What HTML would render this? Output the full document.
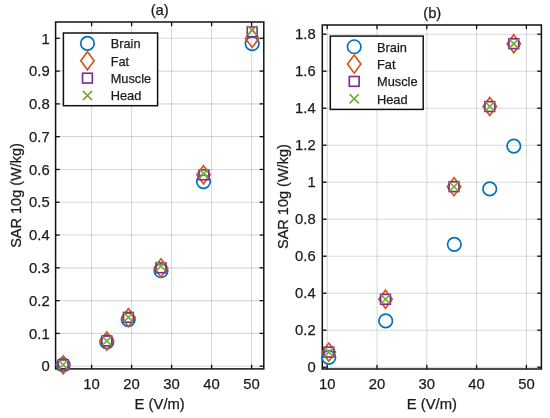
<!DOCTYPE html>
<html><head><meta charset="utf-8"><title>SAR plots</title>
<style>
html,body{margin:0;padding:0;background:#fff;}
svg{display:block;font-family:"Liberation Sans",Arial,sans-serif;}
svg text{fill:#1c1c1c;stroke:#1c1c1c;stroke-width:0.25;}
</style></head>
<body>
<svg width="550" height="418" viewBox="0 0 550 418">
<rect width="550" height="418" fill="#fff"/>
<rect x="55.6" y="22.0" width="208.20000000000002" height="346.9" fill="#fff"/>
<line x1="91.60" y1="22.0" x2="91.60" y2="368.9" stroke="#000" stroke-opacity="0.15" stroke-width="1.1"/>
<line x1="131.60" y1="22.0" x2="131.60" y2="368.9" stroke="#000" stroke-opacity="0.15" stroke-width="1.1"/>
<line x1="171.60" y1="22.0" x2="171.60" y2="368.9" stroke="#000" stroke-opacity="0.15" stroke-width="1.1"/>
<line x1="211.60" y1="22.0" x2="211.60" y2="368.9" stroke="#000" stroke-opacity="0.15" stroke-width="1.1"/>
<line x1="251.60" y1="22.0" x2="251.60" y2="368.9" stroke="#000" stroke-opacity="0.15" stroke-width="1.1"/>
<line x1="55.6" y1="366.20" x2="263.8" y2="366.20" stroke="#000" stroke-opacity="0.15" stroke-width="1.1"/>
<line x1="55.6" y1="333.41" x2="263.8" y2="333.41" stroke="#000" stroke-opacity="0.15" stroke-width="1.1"/>
<line x1="55.6" y1="300.62" x2="263.8" y2="300.62" stroke="#000" stroke-opacity="0.15" stroke-width="1.1"/>
<line x1="55.6" y1="267.83" x2="263.8" y2="267.83" stroke="#000" stroke-opacity="0.15" stroke-width="1.1"/>
<line x1="55.6" y1="235.04" x2="263.8" y2="235.04" stroke="#000" stroke-opacity="0.15" stroke-width="1.1"/>
<line x1="55.6" y1="202.25" x2="263.8" y2="202.25" stroke="#000" stroke-opacity="0.15" stroke-width="1.1"/>
<line x1="55.6" y1="169.46" x2="263.8" y2="169.46" stroke="#000" stroke-opacity="0.15" stroke-width="1.1"/>
<line x1="55.6" y1="136.67" x2="263.8" y2="136.67" stroke="#000" stroke-opacity="0.15" stroke-width="1.1"/>
<line x1="55.6" y1="103.88" x2="263.8" y2="103.88" stroke="#000" stroke-opacity="0.15" stroke-width="1.1"/>
<line x1="55.6" y1="71.09" x2="263.8" y2="71.09" stroke="#000" stroke-opacity="0.15" stroke-width="1.1"/>
<line x1="55.6" y1="38.30" x2="263.8" y2="38.30" stroke="#000" stroke-opacity="0.15" stroke-width="1.1"/>
<rect x="55.6" y="22.0" width="208.20000000000002" height="346.9" fill="none" stroke="#111111" stroke-width="1.5"/>
<line x1="91.60" y1="368.9" x2="91.60" y2="364.7" stroke="#111111" stroke-width="1.3"/>
<line x1="91.60" y1="22.0" x2="91.60" y2="26.2" stroke="#111111" stroke-width="1.3"/>
<text x="91.60" y="389.4" text-anchor="middle" font-size="14.8">10</text>
<line x1="131.60" y1="368.9" x2="131.60" y2="364.7" stroke="#111111" stroke-width="1.3"/>
<line x1="131.60" y1="22.0" x2="131.60" y2="26.2" stroke="#111111" stroke-width="1.3"/>
<text x="131.60" y="389.4" text-anchor="middle" font-size="14.8">20</text>
<line x1="171.60" y1="368.9" x2="171.60" y2="364.7" stroke="#111111" stroke-width="1.3"/>
<line x1="171.60" y1="22.0" x2="171.60" y2="26.2" stroke="#111111" stroke-width="1.3"/>
<text x="171.60" y="389.4" text-anchor="middle" font-size="14.8">30</text>
<line x1="211.60" y1="368.9" x2="211.60" y2="364.7" stroke="#111111" stroke-width="1.3"/>
<line x1="211.60" y1="22.0" x2="211.60" y2="26.2" stroke="#111111" stroke-width="1.3"/>
<text x="211.60" y="389.4" text-anchor="middle" font-size="14.8">40</text>
<line x1="251.60" y1="368.9" x2="251.60" y2="364.7" stroke="#111111" stroke-width="1.3"/>
<line x1="251.60" y1="22.0" x2="251.60" y2="26.2" stroke="#111111" stroke-width="1.3"/>
<text x="251.60" y="389.4" text-anchor="middle" font-size="14.8">50</text>
<line x1="55.6" y1="366.20" x2="59.800000000000004" y2="366.20" stroke="#111111" stroke-width="1.3"/>
<line x1="263.8" y1="366.20" x2="259.6" y2="366.20" stroke="#111111" stroke-width="1.3"/>
<text x="49.7" y="371.40" text-anchor="end" font-size="14.8">0</text>
<line x1="55.6" y1="333.41" x2="59.800000000000004" y2="333.41" stroke="#111111" stroke-width="1.3"/>
<line x1="263.8" y1="333.41" x2="259.6" y2="333.41" stroke="#111111" stroke-width="1.3"/>
<text x="49.7" y="338.61" text-anchor="end" font-size="14.8">0.1</text>
<line x1="55.6" y1="300.62" x2="59.800000000000004" y2="300.62" stroke="#111111" stroke-width="1.3"/>
<line x1="263.8" y1="300.62" x2="259.6" y2="300.62" stroke="#111111" stroke-width="1.3"/>
<text x="49.7" y="305.82" text-anchor="end" font-size="14.8">0.2</text>
<line x1="55.6" y1="267.83" x2="59.800000000000004" y2="267.83" stroke="#111111" stroke-width="1.3"/>
<line x1="263.8" y1="267.83" x2="259.6" y2="267.83" stroke="#111111" stroke-width="1.3"/>
<text x="49.7" y="273.03" text-anchor="end" font-size="14.8">0.3</text>
<line x1="55.6" y1="235.04" x2="59.800000000000004" y2="235.04" stroke="#111111" stroke-width="1.3"/>
<line x1="263.8" y1="235.04" x2="259.6" y2="235.04" stroke="#111111" stroke-width="1.3"/>
<text x="49.7" y="240.24" text-anchor="end" font-size="14.8">0.4</text>
<line x1="55.6" y1="202.25" x2="59.800000000000004" y2="202.25" stroke="#111111" stroke-width="1.3"/>
<line x1="263.8" y1="202.25" x2="259.6" y2="202.25" stroke="#111111" stroke-width="1.3"/>
<text x="49.7" y="207.45" text-anchor="end" font-size="14.8">0.5</text>
<line x1="55.6" y1="169.46" x2="59.800000000000004" y2="169.46" stroke="#111111" stroke-width="1.3"/>
<line x1="263.8" y1="169.46" x2="259.6" y2="169.46" stroke="#111111" stroke-width="1.3"/>
<text x="49.7" y="174.66" text-anchor="end" font-size="14.8">0.6</text>
<line x1="55.6" y1="136.67" x2="59.800000000000004" y2="136.67" stroke="#111111" stroke-width="1.3"/>
<line x1="263.8" y1="136.67" x2="259.6" y2="136.67" stroke="#111111" stroke-width="1.3"/>
<text x="49.7" y="141.87" text-anchor="end" font-size="14.8">0.7</text>
<line x1="55.6" y1="103.88" x2="59.800000000000004" y2="103.88" stroke="#111111" stroke-width="1.3"/>
<line x1="263.8" y1="103.88" x2="259.6" y2="103.88" stroke="#111111" stroke-width="1.3"/>
<text x="49.7" y="109.08" text-anchor="end" font-size="14.8">0.8</text>
<line x1="55.6" y1="71.09" x2="59.800000000000004" y2="71.09" stroke="#111111" stroke-width="1.3"/>
<line x1="263.8" y1="71.09" x2="259.6" y2="71.09" stroke="#111111" stroke-width="1.3"/>
<text x="49.7" y="76.29" text-anchor="end" font-size="14.8">0.9</text>
<line x1="55.6" y1="38.30" x2="59.800000000000004" y2="38.30" stroke="#111111" stroke-width="1.3"/>
<line x1="263.8" y1="38.30" x2="259.6" y2="38.30" stroke="#111111" stroke-width="1.3"/>
<text x="49.7" y="43.50" text-anchor="end" font-size="14.8">1</text>
<text x="159.70" y="15.45" text-anchor="middle" font-size="14.8">(a)</text>
<text x="159.70" y="409.2" text-anchor="middle" font-size="14.8">E (V/m)</text>
<text transform="translate(21.2 195.45) rotate(-90)" text-anchor="middle" font-size="14.5">SAR 10g (W/kg)</text>
<circle cx="63.17" cy="364.85" r="6.75" fill="none" stroke="#0072BD" stroke-width="1.7"/>
<circle cx="106.82" cy="341.92" r="6.75" fill="none" stroke="#0072BD" stroke-width="1.7"/>
<circle cx="128.25" cy="319.60" r="6.75" fill="none" stroke="#0072BD" stroke-width="1.7"/>
<circle cx="161.00" cy="270.74" r="6.75" fill="none" stroke="#0072BD" stroke-width="1.7"/>
<circle cx="203.50" cy="181.60" r="6.75" fill="none" stroke="#0072BD" stroke-width="1.7"/>
<circle cx="252.18" cy="43.64" r="6.75" fill="none" stroke="#0072BD" stroke-width="1.7"/>
<path d="M63.17 355.80L69.87 364.85L63.17 373.90L56.47 364.85Z" fill="none" stroke="#D95319" stroke-width="1.65" stroke-linejoin="miter"/>
<path d="M106.82 331.98L113.52 341.03L106.82 350.08L100.12 341.03Z" fill="none" stroke="#D95319" stroke-width="1.65" stroke-linejoin="miter"/>
<path d="M128.41 308.55L135.11 317.60L128.41 326.65L121.71 317.60Z" fill="none" stroke="#D95319" stroke-width="1.65" stroke-linejoin="miter"/>
<path d="M160.95 258.84L167.65 267.89L160.95 276.94L154.25 267.89Z" fill="none" stroke="#D95319" stroke-width="1.65" stroke-linejoin="miter"/>
<path d="M203.50 165.74L210.20 174.79L203.50 183.84L196.80 174.79Z" fill="none" stroke="#D95319" stroke-width="1.65" stroke-linejoin="miter"/>
<path d="M252.18 29.35L258.88 38.40L252.18 47.45L245.48 38.40Z" fill="none" stroke="#D95319" stroke-width="1.65" stroke-linejoin="miter"/>
<rect x="58.27" y="359.95" width="9.80" height="9.80" fill="none" stroke="#7E2F8E" stroke-width="1.65"/>
<rect x="101.92" y="336.03" width="9.80" height="9.80" fill="none" stroke="#7E2F8E" stroke-width="1.65"/>
<rect x="123.51" y="312.44" width="9.80" height="9.80" fill="none" stroke="#7E2F8E" stroke-width="1.65"/>
<rect x="156.05" y="262.90" width="9.80" height="9.80" fill="none" stroke="#7E2F8E" stroke-width="1.65"/>
<rect x="199.05" y="169.92" width="9.80" height="9.80" fill="none" stroke="#7E2F8E" stroke-width="1.65"/>
<rect x="247.28" y="26.95" width="9.80" height="9.80" fill="none" stroke="#7E2F8E" stroke-width="1.65"/>
<path d="M58.57 360.25L67.77 369.45M58.57 369.45L67.77 360.25" fill="none" stroke="#77AC30" stroke-width="1.65"/>
<path d="M102.22 336.33L111.42 345.53M102.22 345.53L111.42 336.33" fill="none" stroke="#77AC30" stroke-width="1.65"/>
<path d="M123.81 312.74L133.01 321.94M123.81 321.94L133.01 312.74" fill="none" stroke="#77AC30" stroke-width="1.65"/>
<path d="M156.25 261.55L165.45 270.75M156.25 270.75L165.45 261.55" fill="none" stroke="#77AC30" stroke-width="1.65"/>
<path d="M199.10 169.10L208.30 178.30M199.10 178.30L208.30 169.10" fill="none" stroke="#77AC30" stroke-width="1.65"/>
<path d="M247.58 25.77L256.78 34.97M247.58 34.97L256.78 25.77" fill="none" stroke="#77AC30" stroke-width="1.65"/>
<rect x="63.4" y="33.0" width="94.19999999999999" height="72.7" fill="#fff" stroke="#111111" stroke-width="1.5"/>
<circle cx="87.45" cy="43.40" r="6.75" fill="none" stroke="#0072BD" stroke-width="1.7"/>
<text x="110.7" y="48.20" font-size="12.8">Brain</text>
<path d="M87.45 51.72L94.15 60.77L87.45 69.82L80.75 60.77Z" fill="none" stroke="#D95319" stroke-width="1.65" stroke-linejoin="miter"/>
<text x="110.7" y="65.57" font-size="12.8">Fat</text>
<rect x="82.55" y="73.24" width="9.80" height="9.80" fill="none" stroke="#7E2F8E" stroke-width="1.65"/>
<text x="110.7" y="82.94" font-size="12.8">Muscle</text>
<path d="M82.85 90.91L92.05 100.11M82.85 100.11L92.05 90.91" fill="none" stroke="#77AC30" stroke-width="1.65"/>
<text x="110.7" y="100.31" font-size="12.8">Head</text>
<rect x="322.3" y="25.0" width="219.09999999999997" height="344.0" fill="#fff"/>
<line x1="327.20" y1="25.0" x2="327.20" y2="369.0" stroke="#000" stroke-opacity="0.15" stroke-width="1.1"/>
<line x1="377.00" y1="25.0" x2="377.00" y2="369.0" stroke="#000" stroke-opacity="0.15" stroke-width="1.1"/>
<line x1="426.80" y1="25.0" x2="426.80" y2="369.0" stroke="#000" stroke-opacity="0.15" stroke-width="1.1"/>
<line x1="476.60" y1="25.0" x2="476.60" y2="369.0" stroke="#000" stroke-opacity="0.15" stroke-width="1.1"/>
<line x1="526.40" y1="25.0" x2="526.40" y2="369.0" stroke="#000" stroke-opacity="0.15" stroke-width="1.1"/>
<line x1="322.3" y1="367.20" x2="541.4" y2="367.20" stroke="#000" stroke-opacity="0.15" stroke-width="1.1"/>
<line x1="322.3" y1="330.20" x2="541.4" y2="330.20" stroke="#000" stroke-opacity="0.15" stroke-width="1.1"/>
<line x1="322.3" y1="293.20" x2="541.4" y2="293.20" stroke="#000" stroke-opacity="0.15" stroke-width="1.1"/>
<line x1="322.3" y1="256.20" x2="541.4" y2="256.20" stroke="#000" stroke-opacity="0.15" stroke-width="1.1"/>
<line x1="322.3" y1="219.20" x2="541.4" y2="219.20" stroke="#000" stroke-opacity="0.15" stroke-width="1.1"/>
<line x1="322.3" y1="182.20" x2="541.4" y2="182.20" stroke="#000" stroke-opacity="0.15" stroke-width="1.1"/>
<line x1="322.3" y1="145.20" x2="541.4" y2="145.20" stroke="#000" stroke-opacity="0.15" stroke-width="1.1"/>
<line x1="322.3" y1="108.20" x2="541.4" y2="108.20" stroke="#000" stroke-opacity="0.15" stroke-width="1.1"/>
<line x1="322.3" y1="71.20" x2="541.4" y2="71.20" stroke="#000" stroke-opacity="0.15" stroke-width="1.1"/>
<line x1="322.3" y1="34.20" x2="541.4" y2="34.20" stroke="#000" stroke-opacity="0.15" stroke-width="1.1"/>
<rect x="322.3" y="25.0" width="219.09999999999997" height="344.0" fill="none" stroke="#111111" stroke-width="1.5"/>
<line x1="327.20" y1="369.0" x2="327.20" y2="364.8" stroke="#111111" stroke-width="1.3"/>
<line x1="327.20" y1="25.0" x2="327.20" y2="29.2" stroke="#111111" stroke-width="1.3"/>
<text x="327.20" y="389.4" text-anchor="middle" font-size="14.8">10</text>
<line x1="377.00" y1="369.0" x2="377.00" y2="364.8" stroke="#111111" stroke-width="1.3"/>
<line x1="377.00" y1="25.0" x2="377.00" y2="29.2" stroke="#111111" stroke-width="1.3"/>
<text x="377.00" y="389.4" text-anchor="middle" font-size="14.8">20</text>
<line x1="426.80" y1="369.0" x2="426.80" y2="364.8" stroke="#111111" stroke-width="1.3"/>
<line x1="426.80" y1="25.0" x2="426.80" y2="29.2" stroke="#111111" stroke-width="1.3"/>
<text x="426.80" y="389.4" text-anchor="middle" font-size="14.8">30</text>
<line x1="476.60" y1="369.0" x2="476.60" y2="364.8" stroke="#111111" stroke-width="1.3"/>
<line x1="476.60" y1="25.0" x2="476.60" y2="29.2" stroke="#111111" stroke-width="1.3"/>
<text x="476.60" y="389.4" text-anchor="middle" font-size="14.8">40</text>
<line x1="526.40" y1="369.0" x2="526.40" y2="364.8" stroke="#111111" stroke-width="1.3"/>
<line x1="526.40" y1="25.0" x2="526.40" y2="29.2" stroke="#111111" stroke-width="1.3"/>
<text x="526.40" y="389.4" text-anchor="middle" font-size="14.8">50</text>
<line x1="322.3" y1="367.20" x2="326.5" y2="367.20" stroke="#111111" stroke-width="1.3"/>
<line x1="541.4" y1="367.20" x2="537.1999999999999" y2="367.20" stroke="#111111" stroke-width="1.3"/>
<text x="315.7" y="372.40" text-anchor="end" font-size="14.8">0</text>
<line x1="322.3" y1="330.20" x2="326.5" y2="330.20" stroke="#111111" stroke-width="1.3"/>
<line x1="541.4" y1="330.20" x2="537.1999999999999" y2="330.20" stroke="#111111" stroke-width="1.3"/>
<text x="315.7" y="335.40" text-anchor="end" font-size="14.8">0.2</text>
<line x1="322.3" y1="293.20" x2="326.5" y2="293.20" stroke="#111111" stroke-width="1.3"/>
<line x1="541.4" y1="293.20" x2="537.1999999999999" y2="293.20" stroke="#111111" stroke-width="1.3"/>
<text x="315.7" y="298.40" text-anchor="end" font-size="14.8">0.4</text>
<line x1="322.3" y1="256.20" x2="326.5" y2="256.20" stroke="#111111" stroke-width="1.3"/>
<line x1="541.4" y1="256.20" x2="537.1999999999999" y2="256.20" stroke="#111111" stroke-width="1.3"/>
<text x="315.7" y="261.40" text-anchor="end" font-size="14.8">0.6</text>
<line x1="322.3" y1="219.20" x2="326.5" y2="219.20" stroke="#111111" stroke-width="1.3"/>
<line x1="541.4" y1="219.20" x2="537.1999999999999" y2="219.20" stroke="#111111" stroke-width="1.3"/>
<text x="315.7" y="224.40" text-anchor="end" font-size="14.8">0.8</text>
<line x1="322.3" y1="182.20" x2="326.5" y2="182.20" stroke="#111111" stroke-width="1.3"/>
<line x1="541.4" y1="182.20" x2="537.1999999999999" y2="182.20" stroke="#111111" stroke-width="1.3"/>
<text x="315.7" y="187.40" text-anchor="end" font-size="14.8">1</text>
<line x1="322.3" y1="145.20" x2="326.5" y2="145.20" stroke="#111111" stroke-width="1.3"/>
<line x1="541.4" y1="145.20" x2="537.1999999999999" y2="145.20" stroke="#111111" stroke-width="1.3"/>
<text x="315.7" y="150.40" text-anchor="end" font-size="14.8">1.2</text>
<line x1="322.3" y1="108.20" x2="326.5" y2="108.20" stroke="#111111" stroke-width="1.3"/>
<line x1="541.4" y1="108.20" x2="537.1999999999999" y2="108.20" stroke="#111111" stroke-width="1.3"/>
<text x="315.7" y="113.40" text-anchor="end" font-size="14.8">1.4</text>
<line x1="322.3" y1="71.20" x2="326.5" y2="71.20" stroke="#111111" stroke-width="1.3"/>
<line x1="541.4" y1="71.20" x2="537.1999999999999" y2="71.20" stroke="#111111" stroke-width="1.3"/>
<text x="315.7" y="76.40" text-anchor="end" font-size="14.8">1.6</text>
<line x1="322.3" y1="34.20" x2="326.5" y2="34.20" stroke="#111111" stroke-width="1.3"/>
<line x1="541.4" y1="34.20" x2="537.1999999999999" y2="34.20" stroke="#111111" stroke-width="1.3"/>
<text x="315.7" y="39.40" text-anchor="end" font-size="14.8">1.8</text>
<text x="432.25" y="18.2" text-anchor="middle" font-size="14.8">(b)</text>
<text x="431.85" y="409.2" text-anchor="middle" font-size="14.8">E (V/m)</text>
<text transform="translate(287.8 196.60) rotate(-90)" text-anchor="middle" font-size="14.5">SAR 10g (W/kg)</text>
<circle cx="328.80" cy="357.40" r="6.75" fill="none" stroke="#0072BD" stroke-width="1.7"/>
<circle cx="385.70" cy="320.90" r="6.75" fill="none" stroke="#0072BD" stroke-width="1.7"/>
<circle cx="454.30" cy="244.30" r="6.75" fill="none" stroke="#0072BD" stroke-width="1.7"/>
<circle cx="489.70" cy="188.95" r="6.75" fill="none" stroke="#0072BD" stroke-width="1.7"/>
<circle cx="513.80" cy="146.10" r="6.75" fill="none" stroke="#0072BD" stroke-width="1.7"/>
<path d="M328.80 343.05L335.50 352.10L328.80 361.15L322.10 352.10Z" fill="none" stroke="#D95319" stroke-width="1.65" stroke-linejoin="miter"/>
<path d="M385.50 290.25L392.20 299.30L385.50 308.35L378.80 299.30Z" fill="none" stroke="#D95319" stroke-width="1.65" stroke-linejoin="miter"/>
<path d="M454.00 177.60L460.70 186.65L454.00 195.70L447.30 186.65Z" fill="none" stroke="#D95319" stroke-width="1.65" stroke-linejoin="miter"/>
<path d="M489.80 97.50L496.50 106.55L489.80 115.60L483.10 106.55Z" fill="none" stroke="#D95319" stroke-width="1.65" stroke-linejoin="miter"/>
<path d="M513.80 34.65L520.50 43.70L513.80 52.75L507.10 43.70Z" fill="none" stroke="#D95319" stroke-width="1.65" stroke-linejoin="miter"/>
<rect x="323.90" y="347.20" width="9.80" height="9.80" fill="none" stroke="#7E2F8E" stroke-width="1.65"/>
<rect x="380.60" y="294.40" width="9.80" height="9.80" fill="none" stroke="#7E2F8E" stroke-width="1.65"/>
<rect x="449.10" y="181.75" width="9.80" height="9.80" fill="none" stroke="#7E2F8E" stroke-width="1.65"/>
<rect x="484.90" y="101.65" width="9.80" height="9.80" fill="none" stroke="#7E2F8E" stroke-width="1.65"/>
<rect x="508.90" y="38.80" width="9.80" height="9.80" fill="none" stroke="#7E2F8E" stroke-width="1.65"/>
<path d="M324.20 347.50L333.40 356.70M324.20 356.70L333.40 347.50" fill="none" stroke="#77AC30" stroke-width="1.65"/>
<path d="M380.90 294.70L390.10 303.90M380.90 303.90L390.10 294.70" fill="none" stroke="#77AC30" stroke-width="1.65"/>
<path d="M449.40 182.05L458.60 191.25M449.40 191.25L458.60 182.05" fill="none" stroke="#77AC30" stroke-width="1.65"/>
<path d="M485.20 101.95L494.40 111.15M485.20 111.15L494.40 101.95" fill="none" stroke="#77AC30" stroke-width="1.65"/>
<path d="M509.20 39.10L518.40 48.30M509.20 48.30L518.40 39.10" fill="none" stroke="#77AC30" stroke-width="1.65"/>
<rect x="330.3" y="36.1" width="92.89999999999998" height="73.30000000000001" fill="#fff" stroke="#111111" stroke-width="1.5"/>
<circle cx="354.20" cy="46.75" r="6.75" fill="none" stroke="#0072BD" stroke-width="1.7"/>
<text x="377.0" y="51.55" font-size="12.8">Brain</text>
<path d="M354.20 55.03L360.90 64.08L354.20 73.13L347.50 64.08Z" fill="none" stroke="#D95319" stroke-width="1.65" stroke-linejoin="miter"/>
<text x="377.0" y="68.88" font-size="12.8">Fat</text>
<rect x="349.30" y="76.51" width="9.80" height="9.80" fill="none" stroke="#7E2F8E" stroke-width="1.65"/>
<text x="377.0" y="86.21" font-size="12.8">Muscle</text>
<path d="M349.60 94.14L358.80 103.34M349.60 103.34L358.80 94.14" fill="none" stroke="#77AC30" stroke-width="1.65"/>
<text x="377.0" y="103.54" font-size="12.8">Head</text>
</svg>
</body></html>
